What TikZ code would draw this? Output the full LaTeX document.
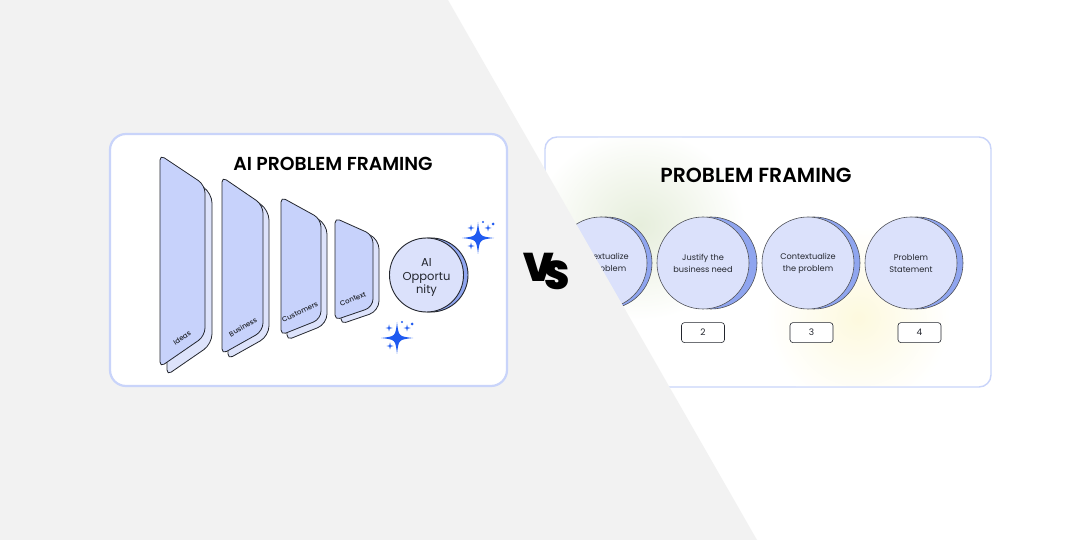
\documentclass[tikz,border=0pt]{standalone}
\usepackage{fontspec}
\setmainfont{Poppins}
\newfontfamily\vsfont{Poppins Black}
\newfontfamily\headfont{Poppins SemiBold}
\newfontfamily\labelfont{Poppins Medium}
\usetikzlibrary{positioning}
\definecolor{greyside}{HTML}{F2F2F2}
\definecolor{cardline}{HTML}{C9D4FA}
\definecolor{pagefront}{HTML}{C7D2FB}
\definecolor{pageback}{HTML}{DDE3FB}
\definecolor{discfront}{HTML}{DBE1FB}
\definecolor{discback}{HTML}{8FA5EF}
\definecolor{starblue}{HTML}{1F5AF0}
\definecolor{inkline}{HTML}{23262E}
\definecolor{glowgreen}{HTML}{E6EEDC}
\definecolor{glowgreenmid}{HTML}{F2F6EC}
\definecolor{glowyellow}{HTML}{FDF9DE}
\definecolor{glowyellowmid}{HTML}{FEFCEE}
\pgfdeclareradialshading{greenglow}{\pgfpointorigin}{color(0bp)=(glowgreen); color(12bp)=(glowgreenmid); color(25bp)=(white); color(50bp)=(white)}
\pgfdeclareradialshading{yellowglow}{\pgfpointorigin}{color(0bp)=(glowyellow); color(12bp)=(glowyellowmid); color(25bp)=(white); color(50bp)=(white)}
\tikzset{
	x=1pt, y=-1pt, % coordinates are the pixels of the picture
	card/.style={draw=cardline, fill=white}, % the two white panels
	pagefrontshape/.style={draw=inkline, line width=0.8pt, fill=pagefront},
	pagebackshape/.style={draw=inkline, line width=0.8pt, fill=pageback},
	pagelabel/.style={font=\labelfont\fontsize{7}{8}\selectfont, text=inkline, inner sep=0pt},
	discfrontshape/.style={circle, draw=inkline!80, line width=0.6pt, fill=discfront, minimum size=92pt, inner sep=0pt,
		align=center, font=\fontsize{8.2}{12.2}\selectfont, text=inkline},
	discbackshape/.style={circle, draw=inkline!80, line width=0.6pt, fill=discback, minimum size=92pt, inner sep=0pt},
	numbox/.style={draw=inkline, line width=0.6pt, rounded corners=3pt, fill=white, minimum width=43pt, minimum height=20pt,
		inner sep=0pt, font=\fontsize{9}{10}\selectfont, text=inkline},
	heading/.style={text=black, inner sep=0pt},
}
% a page with a second page behind it: left, top left, right, top right, bottom right, bottom left, shift x, shift y
\newcommand{\bookpages}[8]{
	\draw[pagebackshape, rounded corners=5pt] (#1+#7,#2+#8) [rounded corners=10pt] -- (#3+#7,#4+#8) -- (#3+#7,#5+#8) [rounded corners=5pt] -- (#1+#7,#6+#8) -- cycle;
	\draw[pagefrontshape, rounded corners=5pt] (#1,#2) [rounded corners=8pt] -- (#3,#4) -- (#3,#5) [rounded corners=5pt] -- (#1,#6) -- cycle;
}
\newcommand{\sparkle}[3]{
	\fill[starblue, shift={(#1,#2)}, scale=#3] (0,-1) .. controls (.1,-.1) .. (1,0) .. controls (.1,.1) .. (0,1)
		.. controls (-.1,.1) .. (-1,0) .. controls (-.1,-.1) .. (0,-1) -- cycle;
}
\begin{document}
\begin{tikzpicture}
	\useasboundingbox (0,0) rectangle (1080,540);
	\fill[white] (0,0) rectangle (1080,540);

	% right panel, it lies under the grey side
	\draw[card, line width=1.4pt, rounded corners=12pt] (545,137) rectangle (991,387);
	\begin{scope}
		\clip[rounded corners=12pt] (546,138) rectangle (990,386);
		\shade[shading=greenglow] (640,225) circle [x radius=105, y radius=95];
		\shade[shading=yellowglow] (858,318) circle [radius=92];
	\end{scope}
	\node[heading, font=\headfont\fontsize{20.4}{24}\selectfont] (plaintitle) at (756,175) {PROBLEM FRAMING};

	\node[discbackshape] (framingback) at (606,263) {};
	\node[discfrontshape] (framing) at (601,263) {\rule{0pt}{7.8pt}Contextualize\\the problem};
	\node[discbackshape] (justifyback) at (711,263) {};
	\node[discfrontshape] (justify) at (703,263) {\rule{0pt}{7.8pt}Justify the\\business need};
	\node[discbackshape] (contextback) at (814,263) {};
	\node[discfrontshape] (context) at (808,263) {\rule{0pt}{7.8pt}Contextualize\\the problem};
	\node[discbackshape] (statementback) at (917,263) {};
	\node[discfrontshape] (statement) at (911,263) {\rule{0pt}{7.8pt}Problem\\Statement};
	\node[numbox, below=13pt of justify] (boxtwo) {2};
	\node[numbox, below=13pt of context, xshift=3.5pt] (boxthree) {3};
	\node[numbox, below=13pt of statement, xshift=8.5pt] (boxfour) {4};

	% grey side over the right panel
	\fill[greyside] (0,0) -- (448,0) -- (757,540) -- (0,540) -- cycle;

	% left panel
	\draw[card, line width=2.2pt, rounded corners=16pt] (110,134) rectangle (507,386);
	\node[heading, font=\headfont\fontsize{18.8}{22}\selectfont] (aititle) at (333,164) {AI PROBLEM FRAMING};

	\bookpages{160}{155}{205}{185}{336}{367}{7}{8}
	\bookpages{222}{177}{263}{205}{331}{354}{6}{5}
	\bookpages{281}{197}{321}{219}{319}{335}{6}{5}
	\bookpages{335}{218}{373}{235}{307}{320}{6}{4}
	\node[pagelabel, rotate=33] (ideas) at (182,338) {Ideas};
	\node[pagelabel, rotate=30] (business) at (243,327) {Business};
	\node[pagelabel, rotate=25] (customers) at (300,312) {Customers};
	\node[pagelabel, rotate=22] (contextlabel) at (353,299) {Context};

	\node[discbackshape, minimum size=74pt, draw=inkline, line width=0.9pt] (opportunityback) at (431,275) {};
	\node[discfrontshape, minimum size=74pt, draw=inkline, line width=0.9pt, font=\fontsize{11.5}{13.7}\selectfont] (opportunity) at (426.5,275) {\rule{0pt}{13pt}AI\\Opportu\\nity};

	% sparkles round the disc
	\sparkle{478}{238}{16}
	\sparkle{397}{338}{16}
	\foreach \sx/\sy/\sr in {471/228/3.5, 471/246/3.5, 488/228/3.5, 483/222/1.2, 493/224/1.5,
		389/328/3.5, 390/346/3.5, 407/328/3.5, 402/322/1.2, 412/324/1.5} {
		\sparkle{\sx}{\sy}{\sr}
	}

	% the two letters between the panels
	\node[font=\vsfont\fontsize{40}{40}\selectfont, text=black, inner sep=0pt] (letterv) at (539,267) {V};
	\node[font=\vsfont\fontsize{40}{40}\selectfont, text=black, inner sep=0pt] (letters) at (557,275) {S};
\end{tikzpicture}
\end{document}
